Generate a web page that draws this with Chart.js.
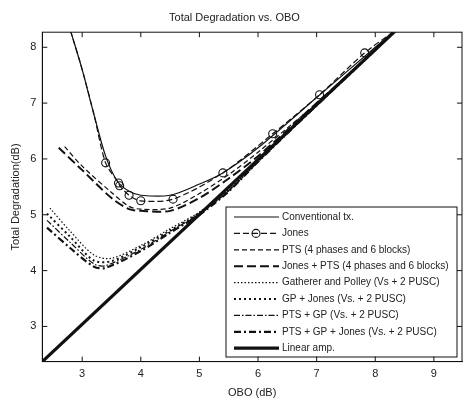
<!DOCTYPE html>
<html><head><meta charset="utf-8">
<script src="https://cdn.jsdelivr.net/npm/chart.js@4"></script>
<style>html,body{margin:0;background:#fff}#wrap{width:474px;height:405px}</style>
</head><body><div id="wrap"><canvas id="c"></canvas></div>
<script>
// series as [OBO, degradation] pairs
const conventional = [[2.8,8.3],[3,7.6],[3.2,6.8],[3.4,6.05],[3.6,5.6],[3.8,5.42],[4,5.35],[4.5,5.35],[5,5.55],[5.4,5.75],[6,6.2],[7,7.1],[8,8.0],[8.3,8.27]]
const jones = [[2.8,8.3],[3,7.6],[3.2,6.8],[3.4,5.93],[3.62,5.57],[3.64,5.52],[3.8,5.35],[4,5.25],[4.55,5.28],[5.4,5.75],[6.25,6.45],[7.05,7.15],[7.82,7.9],[8.3,8.27]]
const pts = [[2.7,6.22],[3,5.87],[3.5,5.4],[3.8,5.15],[4,5.1],[4.5,5.12],[5,5.38],[5.5,5.72],[6,6.12],[7,7.0],[8,7.95],[8.3,8.27]]
const jonesPts = [[2.6,6.2],[3,5.8],[3.5,5.3],[3.8,5.1],[4,5.07],[4.5,5.07],[5,5.3],[5.5,5.65],[6,6.05],[7,7.0],[8,7.95],[8.3,8.27]]
const gp = [[2.45,5.12],[2.8,4.7],[3.2,4.28],[3.5,4.22],[4,4.45],[4.5,4.75],[5,5.05],[5.5,5.45],[6,5.97],[7,6.98],[8,7.96],[8.3,8.27]]
const gpJones = [[2.4,5.02],[2.8,4.6],[3.2,4.18],[3.5,4.17],[4,4.42],[4.5,4.72],[5,5.03],[5.5,5.44],[6,5.96],[7,6.97],[8,7.96],[8.3,8.27]]
const ptsGp = [[2.4,4.9],[2.8,4.5],[3.2,4.12],[3.4,4.09],[4,4.38],[4.5,4.7],[5,5.02],[5.5,5.43],[6,5.95],[7,6.96],[8,7.95],[8.3,8.27]]
const ptsGpJones = [[2.4,4.77],[2.8,4.4],[3.2,4.07],[3.4,4.05],[4,4.35],[4.5,4.68],[5,5.0],[5.5,5.42],[6,5.95],[7,6.96],[8,7.95],[8.3,8.27]]
const linearAmp = [[2.3,2.35],[8.35,8.3]]
const jonesMarkers = [[3.4,5.93],[3.62,5.57],[3.64,5.52],[3.8,5.35],[4,5.25],[4.55,5.28],[5.4,5.75],[6.25,6.45],[7.05,7.15],[7.82,7.9]]
const xTicks = [3,4,5,6,7,8,9]
const yTicks = [3,4,5,6,7,8]

const pt = (arr) => arr.map(([x, y]) => ({ x, y }))
const line = (label, data, width, dash, extra = {}) => ({
  label, data: pt(data), showLine: true, borderColor: "#111", borderWidth: width,
  borderDash: dash, pointRadius: 0, fill: false, tension: 0.3, ...extra,
})

const datasets = [
  line("Conventional tx.", conventional, 1.2, []),
  line("Jones", jones, 1.2, [6, 3], { legendMarker: true }),
  line("PTS (4 phases and 6 blocks)", pts, 1.2, [5, 3]),
  line("Jones + PTS (4 phases and 6 blocks)", jonesPts, 2, [9, 4]),
  line("Gatherer and Polley (Vs + 2 PUSC)", gp, 1.2, [1.5, 2]),
  line("GP + Jones (Vs. + 2 PUSC)", gpJones, 2, [2, 3]),
  line("PTS + GP (Vs. + 2 PUSC)", ptsGp, 1.2, [6, 2, 1.5, 2]),
  line("PTS + GP + Jones (Vs. + 2 PUSC)", ptsGpJones, 2.2, [7, 3, 2, 3]),
  line("Linear amp.", linearAmp, 3.2, [], { tension: 0 }),
  { label: "_markers", data: pt(jonesMarkers), showLine: false, pointRadius: 4,
    pointBorderWidth: 1.1, pointBorderColor: "#111", pointBackgroundColor: "rgba(255,255,255,0)" },
]

const legendBox = {
  id: "legendBox",
  afterDraw(chart) {
    const { ctx } = chart
    const x0 = 226, y0 = 207, w = 231, h = 150
    ctx.save()
    ctx.fillStyle = "#fff"; ctx.fillRect(x0, y0, w, h)
    ctx.strokeStyle = "#111"; ctx.lineWidth = 1; ctx.strokeRect(x0, y0, w, h)
    ctx.font = "10px Arial, 'Liberation Sans'"; ctx.textBaseline = "middle"
    datasets.filter((d) => d.label[0] !== "_").forEach((d, i) => {
      const y = y0 + 10 + i * 16.4
      ctx.strokeStyle = "#111"; ctx.lineWidth = d.borderWidth; ctx.setLineDash(d.borderDash)
      ctx.beginPath(); ctx.moveTo(x0 + 8, y); ctx.lineTo(x0 + 53, y); ctx.stroke()
      ctx.setLineDash([])
      if (d.legendMarker) { ctx.lineWidth = 1.1; ctx.beginPath(); ctx.arc(x0 + 30, y, 4, 0, Math.PI * 2); ctx.stroke() }
      ctx.fillStyle = "#222"; ctx.fillText(d.label, x0 + 56, y)
    })
    ctx.restore()
  },
}

new Chart(document.getElementById("c"), {
  type: "scatter",
  data: { datasets },
  options: {
    responsive: true, maintainAspectRatio: false, animation: false,
    layout: { padding: { top: 5, right: 12, bottom: 5, left: 7 } },
    plugins: {
      legend: { display: false }, tooltip: { enabled: false },
      title: { display: true, text: "Total Degradation vs. OBO", color: "#222",
        font: { family: "Arial, 'Liberation Sans'", size: 11, weight: "normal" }, padding: { top: 6, bottom: 8 } },
    },
    scales: {
      x: {
        type: "linear", min: 2.32, max: 9.48,
        afterBuildTicks: (s) => { s.ticks = xTicks.map((v) => ({ value: v })) },
        grid: { display: false, drawTicks: false },
        border: { color: "#111", width: 1 },
        ticks: { color: "#222", font: { family: "Arial, 'Liberation Sans'", size: 11 }, padding: 6 },
        title: { display: true, text: "OBO (dB)", color: "#222", font: { family: "Arial, 'Liberation Sans'", size: 11 }, padding: 0 },
      },
      y: {
        type: "linear", min: 2.37, max: 8.27,
        afterBuildTicks: (s) => { s.ticks = yTicks.map((v) => ({ value: v })) },
        grid: { display: false, drawTicks: false },
        border: { color: "#111", width: 1 },
        ticks: { color: "#222", font: { family: "Arial, 'Liberation Sans'", size: 11 }, padding: 6 },
        title: { display: true, text: "Total Degradation(dB)", color: "#222", font: { family: "Arial, 'Liberation Sans'", size: 11 }, padding: 2 },
      },
    },
  },
  plugins: [legendBox, {
    id: "frame",
    afterDraw(chart) {
      const { ctx, chartArea: a, scales } = chart
      ctx.save(); ctx.strokeStyle = "#111"; ctx.lineWidth = 1
      ctx.strokeRect(a.left, a.top, a.right - a.left, a.bottom - a.top)
      ctx.beginPath()
      xTicks.forEach((v) => { const x = scales.x.getPixelForValue(v); ctx.moveTo(x, a.bottom); ctx.lineTo(x, a.bottom - 5); ctx.moveTo(x, a.top); ctx.lineTo(x, a.top + 5) })
      yTicks.forEach((v) => { const y = scales.y.getPixelForValue(v); ctx.moveTo(a.left, y); ctx.lineTo(a.left + 5, y); ctx.moveTo(a.right, y); ctx.lineTo(a.right - 5, y) })
      ctx.stroke(); ctx.restore()
    },
  }],
})
</script></body></html>
